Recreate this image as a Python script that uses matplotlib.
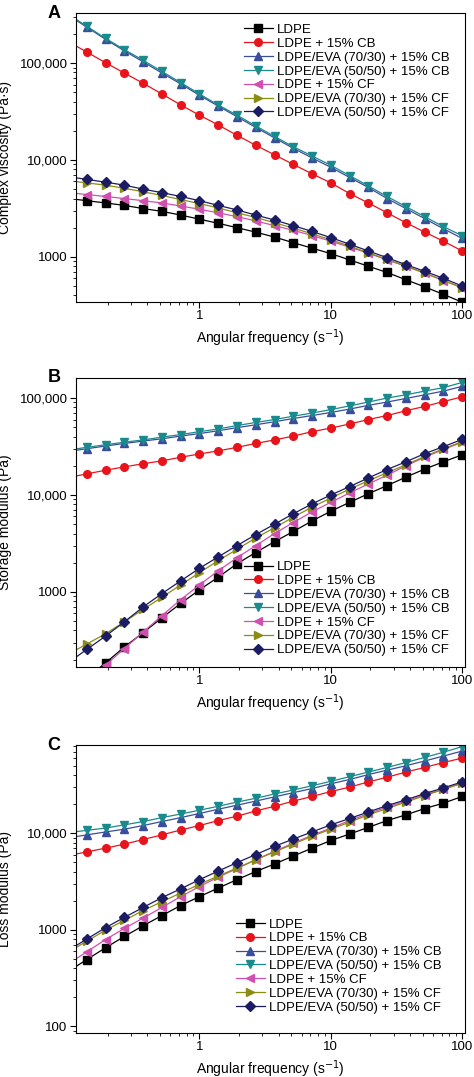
import numpy as np
import matplotlib
matplotlib.use("Agg")
import matplotlib.pyplot as plt
from matplotlib.ticker import FixedLocator, FixedFormatter, LogLocator, NullFormatter

freq = [0.139, 0.193, 0.268, 0.373, 0.518, 0.72, 1, 1.39, 1.93, 2.68, 3.73, 5.18, 7.2, 10, 13.9, 19.3, 26.8, 37.3, 51.8, 72, 100]
labels = ["LDPE", "LDPE + 15% CB", "LDPE/EVA (70/30) + 15% CB", "LDPE/EVA (50/50) + 15% CB",
          "LDPE + 15% CF", "LDPE/EVA (70/30) + 15% CF", "LDPE/EVA (50/50) + 15% CF"]
colors = ["#000000", "#e8141c", "#3a4c9c", "#1a8a8c", "#d050b0", "#8c8c14", "#1c1c64"]
markers = ["s", "o", "^", "v", "<", ">", "D"]

visc = [
    [3800,3600,3400,3150,2950,2700,2450,2220,2000,1800,1600,1400,1230,1080,930,800,690,580,490,410,340],
    [130e3,101e3,79e3,62e3,48e3,37e3,29e3,23e3,18e3,14.2e3,11.3e3,9e3,7.2e3,5.8e3,4.5e3,3.6e3,2.85e3,2.25e3,1.8e3,1.45e3,1.15e3],
    [235e3,176e3,134e3,103e3,79e3,61e3,46.5e3,36e3,28e3,21.7e3,16.9e3,13.2e3,10.5e3,8.4e3,6.6e3,5.2e3,4.0e3,3.15e3,2.48e3,1.95e3,1.55e3],
    [240e3,180e3,138e3,107e3,82e3,63e3,48e3,37e3,29e3,22.5e3,17.5e3,13.7e3,11e3,8.8e3,6.9e3,5.4e3,4.2e3,3.3e3,2.6e3,2.05e3,1.65e3],
    [4400,4200,4000,3800,3600,3350,3100,2850,2600,2350,2100,1880,1660,1450,1260,1090,930,800,680,570,480],
    [5800,5500,5100,4700,4300,3900,3550,3200,2850,2550,2250,1980,1730,1500,1290,1100,940,800,680,570,480],
    [6300,5900,5500,5000,4600,4200,3800,3400,3050,2700,2400,2100,1830,1580,1350,1150,980,830,710,600,500],
]
storage = [
    [130,185,270,380,540,760,1050,1420,1950,2550,3300,4200,5400,6800,8400,10.3e3,12.5e3,15.3e3,18.5e3,22e3,26e3],
    [16.5e3,18e3,19.5e3,21e3,22.5e3,24.5e3,26.5e3,28.5e3,31e3,34e3,37e3,40.5e3,45e3,49e3,54e3,60e3,66e3,74e3,82e3,92e3,103e3],
    [30e3,32e3,34e3,36e3,38e3,40.5e3,43e3,46e3,49.5e3,53e3,57e3,61.5e3,66e3,71e3,77e3,84e3,91e3,99e3,108e3,118e3,132e3],
    [31e3,33e3,35e3,37e3,39.5e3,42e3,45e3,48e3,52e3,56e3,60e3,65e3,70e3,76e3,83e3,91e3,100e3,108e3,118e3,128e3,145e3],
    [125,175,260,385,570,830,1180,1650,2250,3000,4000,5200,6700,8400,10.5e3,13e3,16e3,20e3,24.5e3,29.5e3,35e3],
    [290,370,490,660,880,1180,1580,2100,2750,3600,4600,5900,7500,9300,11.5e3,14e3,17e3,20.5e3,25e3,30e3,35.5e3],
    [255,350,490,700,960,1300,1750,2300,3000,3900,5000,6400,8100,10e3,12.2e3,15e3,18.3e3,22e3,26.7e3,31.5e3,37.5e3],
]
loss = [
    [490,650,850,1100,1400,1780,2200,2700,3300,4000,4800,5800,7000,8400,9800,11.5e3,13.5e3,15.5e3,18e3,20.5e3,24e3],
    [6.4e3,7e3,7.7e3,8.6e3,9.6e3,10.8e3,12e3,13.5e3,15e3,17e3,19e3,21.5e3,24e3,27e3,30e3,34e3,38e3,43e3,48e3,54e3,60e3],
    [9.6e3,10.3e3,11e3,12e3,13.2e3,14.5e3,16e3,17.7e3,19.5e3,21.5e3,23.8e3,26.3e3,29e3,32.5e3,36e3,40.5e3,45e3,50e3,56e3,63e3,71e3],
    [10.7e3,11.3e3,12.2e3,13.2e3,14.5e3,15.8e3,17.3e3,19e3,21e3,23e3,25.5e3,28e3,31e3,34.5e3,38.5e3,43e3,48e3,54e3,61e3,69e3,79e3],
    [590,790,1030,1320,1700,2200,2800,3500,4300,5300,6500,7900,9500,11.3e3,13.5e3,16e3,18.7e3,21.5e3,25e3,28.5e3,33e3],
    [760,990,1250,1580,1950,2400,2950,3600,4350,5300,6400,7700,9300,11e3,13e3,15.5e3,18e3,21e3,24.5e3,28.5e3,33e3],
    [800,1050,1340,1700,2150,2650,3300,4050,4950,6000,7300,8700,10.3e3,12.2e3,14.2e3,16.6e3,19.3e3,22.2e3,25.7e3,29.5e3,34e3],
]

XMIN, XMAX = 0.115, 105
W, H = 474, 1077
plt.rcParams['font.family'] = ['Liberation Sans', 'DejaVu Sans']
fig = plt.figure(figsize=(W/100, H/100), dpi=100)

panels = [
    ("A", visc, "Complex viscosity (Pa·s)", (342, 329e3), [1000, 10000, 100000], ["1000", "10,000", "100,000"], (13, 302), "upper right", (0.98, 0.99)),
    ("B", storage, "Storage modulus (Pa)", (168, 161e3), [1000, 10000, 100000], ["1000", "10,000", "100,000"], (378, 667), "lower right", (0.98, 0.01)),
    ("C", loss, "Loss modulus (Pa)", (85, 82e3), [100, 1000, 10000], ["100", "1000", "10,000"], (745, 1033), "lower right", (0.96, 0.04)),
]
x = np.array(freq)
for letter, data, ylab, ylim, yt, ytl, (top, bot), loc, anchor in panels:
    ax = fig.add_axes([76/W, 1-bot/H, (465-76)/W, (bot-top)/H])
    for i, ys in enumerate(data):
        y = np.array(ys, float)
        s = np.log(y[1]/y[0]) / np.log(x[1]/x[0])
        y0 = y[0] * (XMIN/x[0])**s
        ax.plot([XMIN, x[0]], [y0, y[0]], color=colors[i], lw=0.9)
        ax.plot(x, y, color=colors[i], lw=0.9, marker=markers[i], ms=5.5 if markers[i] != "D" else 5,
                mfc=colors[i], mec=colors[i], label=labels[i])
    ax.set_xscale("log"); ax.set_yscale("log")
    ax.set_xlim(XMIN, XMAX); ax.set_ylim(*ylim)
    ax.xaxis.set_major_locator(FixedLocator([1, 10, 100]))
    ax.xaxis.set_major_formatter(FixedFormatter(["1", "10", "100"]))
    ax.xaxis.set_minor_locator(LogLocator(base=10, subs=np.arange(2, 10)))
    ax.xaxis.set_minor_formatter(NullFormatter())
    ax.yaxis.set_major_locator(FixedLocator(yt))
    ax.yaxis.set_major_formatter(FixedFormatter(ytl))
    ax.yaxis.set_minor_locator(LogLocator(base=10, subs=np.arange(2, 10)))
    ax.yaxis.set_minor_formatter(NullFormatter())
    ax.tick_params(labelsize=9.5, length=4, width=0.8, pad=2)
    ax.tick_params(which="minor", length=2.2)
    ax.set_xlabel("Angular frequency (s$^{-1}$)", fontsize=10, labelpad=4)
    ax.set_ylabel(ylab, fontsize=10, labelpad=3)
    ax.yaxis.set_label_coords(-0.165, 0.5)
    ax.legend(loc=loc, bbox_to_anchor=anchor, frameon=False, fontsize=9.5, handlelength=2.2,
              handletextpad=0.3, labelspacing=0.12, borderaxespad=0.2)
    ax.text(-0.04, 1.0, letter, transform=ax.transAxes, fontsize=13, fontweight="bold",
            ha="right", va="center")

fig.savefig("out.png", dpi=100)
